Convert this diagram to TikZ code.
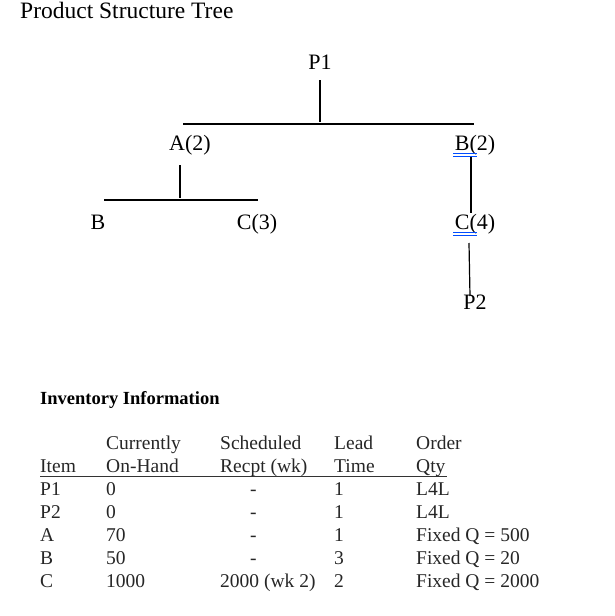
\documentclass[tikz,border=0pt]{standalone}
\usepackage{fontspec}
\setmainfont{Liberation Serif}
\begin{document}
\begin{tikzpicture}[x=1pt,y=-1pt,
  t/.style={inner sep=0pt,anchor=base,font=\fontsize{22}{22}\selectfont},
  tb/.style={inner sep=0pt,anchor=base west,text=black!85,font=\fontsize{19.5}{19.5}\selectfont},
  ln/.style={line width=1.2pt},
  ul/.style={blue!70!cyan,line width=1pt}]
\useasboundingbox (0,0) rectangle (614,616);
\node[inner sep=0pt,anchor=base west,font=\fontsize{23.5}{23.5}\selectfont] (title) at (20,18) {Product Structure Tree};
\node[t] (p1) at (320,69) {P1};
\node[t] (a) at (190,150) {A(2)};
\node[t] (b2) at (475,150) {B(2)};
\node[t] (b) at (98,229) {B};
\node[t] (c3) at (257,229) {C(3)};
\node[t] (c4) at (475,229) {C(4)};
\node[t] (p2) at (475,309) {P2};
\coordinate (h1l) at (183,124); \coordinate (h1r) at (474,124);
\coordinate (h2l) at (104,200); \coordinate (h2r) at (258,200);
\draw[ln] (320,80) -- (320,122);
\draw[ln] (h1l) -- (h1r);
\draw[ln] (180,165) -- (180,198);
\draw[ln] (h2l) -- (h2r);
\draw[ln] (471,157) -- (471,213);
\draw[ln] (469,243) -- (470,296);
\draw[ul] (453,153) -- (477,153); \draw[ul] (453,156) -- (477,156);
\draw[ul] (453,232) -- (477,232); \draw[ul] (453,235) -- (477,235);
\node[inner sep=0pt,anchor=base west,font=\bfseries\fontsize{18.5}{18.5}\selectfont] (inv) at (40,404) {Inventory Information};
\foreach \y/\a/\b/\c/\d/\e [count=\i] in {
 449/ /Currently/Scheduled/Lead/Order,
 472/Item/On-Hand/Recpt (wk)/Time/Qty,
 495/P1/0/\hspace*{30pt}-/1/L4L,
 518/P2/0/\hspace*{30pt}-/1/L4L,
 541/A/70/\hspace*{30pt}-/1/Fixed Q = 500,
 564/B/50/\hspace*{30pt}-/3/Fixed Q = 20,
 587/C/1000/2000 (wk 2)/2/Fixed Q = 2000}{
 \node[tb] (r\i a) at (40,\y) {\a};
 \node[tb] (r\i b) at (106,\y) {\b};
 \node[tb] (r\i c) at (220,\y) {\c};
 \node[tb] (r\i d) at (334,\y) {\d};
 \node[tb] (r\i e) at (416,\y) {\e};
}
\draw[line width=0.7pt,black!80] (40,476) -- (447,476);
\end{tikzpicture}
\end{document}
